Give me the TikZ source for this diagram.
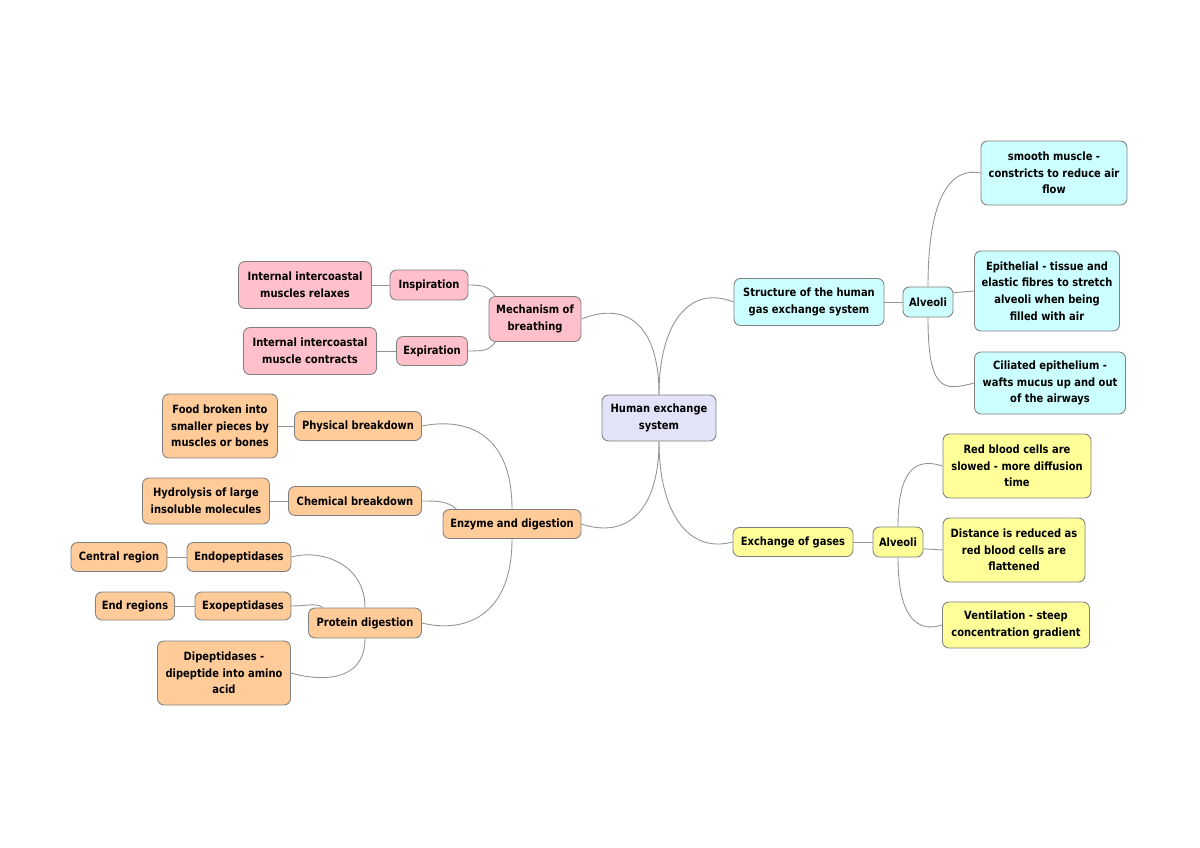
\documentclass[tikz,border=0pt]{standalone}
\usepackage{fontspec}
\setmainfont{DejaVu Sans}[FakeStretch=0.87]
\usepackage{tikz}
\usetikzlibrary{calc}
\definecolor{rootfill}{RGB}{226,226,248}
\definecolor{pinkfill}{RGB}{255,192,203}
\definecolor{cyanfill}{RGB}{204,255,255}
\definecolor{yellowfill}{RGB}{255,255,153}
\definecolor{orangefill}{RGB}{255,204,153}
\definecolor{edgegray}{RGB}{128,128,128}
\tikzset{
	topic/.style={draw=edgegray, line width=0.5pt, rounded corners=0.13cm, align=center, inner sep=1pt,
		font=\fontsize{6.5}{9.5}\selectfont\bfseries},
	sz/.style 2 args={minimum width=#1*0.02cm, minimum height=#2*0.02cm},
	link/.style={draw=edgegray!85, line width=0.5pt}
}

\begin{document}
\begin{tikzpicture}[x=0.02cm, y=-0.02cm]
		%%%%% START %%%%%
		
		\useasboundingbox (0, 0) rectangle (1200, 848);
		
		\node[topic, sz={114}{46}, fill=rootfill] (root) at (659, 418) {Human exchange\\system};
		
		\node[topic, sz={92}{45}, fill=pinkfill] (mech) at (535, 319) {Mechanism of\\breathing};
		\node[topic, sz={78}{30}, fill=pinkfill] (insp) at (429, 285) {Inspiration};
		\node[topic, sz={133}{47}, fill=pinkfill] (relax) at (305, 285) {Internal intercoastal\\muscles relaxes};
		\node[topic, sz={71}{29}, fill=pinkfill] (expi) at (432, 351) {Expiration};
		\node[topic, sz={133}{47}, fill=pinkfill] (contr) at (310, 351) {Internal intercoastal\\muscle contracts};
		
		\node[topic, sz={138}{29}, fill=orangefill] (enzyme) at (512, 524) {Enzyme and digestion};
		\node[topic, sz={127}{29}, fill=orangefill] (phys) at (358, 426) {Physical breakdown};
		\node[topic, sz={115}{64}, fill=orangefill] (food) at (220, 426) {Food broken into\\smaller pieces by\\muscles or bones};
		\node[topic, sz={133}{29}, fill=orangefill] (chem) at (355, 501) {Chemical breakdown};
		\node[topic, sz={127}{46}, fill=orangefill] (hydro) at (206, 501) {Hydrolysis of large\\insoluble molecules};
		\node[topic, sz={113}{30}, fill=orangefill] (prot) at (365, 623) {Protein digestion};
		\node[topic, sz={104}{29}, fill=orangefill] (endo) at (239, 557) {Endopeptidases};
		\node[topic, sz={96}{29}, fill=orangefill] (central) at (119, 557) {Central region};
		\node[topic, sz={96}{28}, fill=orangefill] (exo) at (243, 606) {Exopeptidases};
		\node[topic, sz={79}{28}, fill=orangefill] (endreg) at (135, 606) {End regions};
		\node[topic, sz={133}{64}, fill=orangefill] (dipep) at (224, 673) {Dipeptidases -\\dipeptide into amino\\acid};
		
		\node[topic, sz={150}{47}, fill=cyanfill] (struct) at (809, 302) {Structure of the human\\gas exchange system};
		\node[topic, sz={50}{30}, fill=cyanfill] (alvtop) at (928, 302) {Alveoli};
		\node[topic, sz={146}{64}, fill=cyanfill] (smooth) at (1054, 173) {smooth muscle -\\constricts to reduce air\\flow};
		\node[topic, sz={145}{80}, fill=cyanfill] (epith) at (1047, 291) {Epithelial - tissue and\\elastic fibres to stretch\\alveoli when being\\filled with air};
		\node[topic, sz={151}{62}, fill=cyanfill] (cilia) at (1050, 383) {Ciliated epithelium -\\wafts mucus up and out\\of the airways};
		
		\node[topic, sz={120}{29}, fill=yellowfill] (exch) at (793, 542) {Exchange of gases};
		\node[topic, sz={50}{30}, fill=yellowfill] (alvbot) at (898, 542) {Alveoli};
		\node[topic, sz={148}{64}, fill=yellowfill] (red) at (1017, 466) {Red blood cells are\\slowed - more diffusion\\time};
		\node[topic, sz={142}{64}, fill=yellowfill] (dist) at (1014, 550) {Distance is reduced as\\red blood cells are\\flattened};
		\node[topic, sz={147}{46}, fill=yellowfill] (vent) at (1016, 625) {Ventilation - steep\\concentration gradient};
		
		% root branches
		\draw[link] (root.north) .. controls +(0, -70) and +(45, -18) .. (mech.east);
		\draw[link] (root.north) .. controls +(0, -70) and +(-45, -18) .. (struct.west);
		\draw[link] (root.south) .. controls +(0, 70) and +(45, 15) .. (enzyme.east);
		\draw[link] (root.south) .. controls +(0, 70) and +(-45, 12) .. (exch.west);
		
		% breathing
		\draw[link] (mech.150) .. controls +(-6, -8) and +(18, 0) .. (insp.east);
		\draw[link] (mech.210) .. controls +(-6, 8) and +(18, 0) .. (expi.east);
		\draw[link] (insp.west) -- (relax.east);
		\draw[link] (expi.west) -- (contr.east);
		
		% digestion
		\draw[link] (enzyme.north) .. controls +(0, -80) and +(40, -8) .. (phys.east);
		\draw[link] (enzyme.165) .. controls +(-8, -8) and +(15, 0) .. (chem.east);
		\draw[link] (enzyme.south) .. controls +(0, 80) and +(40, 10) .. (prot.east);
		\draw[link] (phys.west) -- (food.east);
		\draw[link] (chem.west) -- (hydro.east);
		\draw[link] (prot.north) .. controls +(0, -45) and +(28, -8) .. (endo.east);
		\draw[link] (prot.160) .. controls +(-6, -5) and +(15, 0) .. (exo.east);
		\draw[link] (prot.south) .. controls +(0, 45) and +(28, 8) .. (dipep.east);
		\draw[link] (endo.west) -- (central.east);
		\draw[link] (exo.west) -- (endreg.east);
		
		% structure
		\draw[link] (struct.east) -- (alvtop.west);
		\draw[link] (alvtop.north) .. controls +(0, -90) and +(-30, -6) .. (smooth.west);
		\draw[link] (alvtop.20) .. controls +(10, 0) and +(-10, 0) .. (epith.west);
		\draw[link] (alvtop.south) .. controls +(0, 75) and +(-30, 8) .. (cilia.west);
		
		% gases
		\draw[link] (exch.east) -- (alvbot.west);
		\draw[link] (alvbot.north) .. controls +(0, -60) and +(-25, -8) .. (red.west);
		\draw[link] (alvbot.-15) .. controls +(10, 0) and +(-10, 0) .. (dist.west);
		\draw[link] (alvbot.south) .. controls +(0, 60) and +(-25, 8) .. (vent.west);
		
		%%%%% END %%%%%
	\end{tikzpicture}
\end{document}
